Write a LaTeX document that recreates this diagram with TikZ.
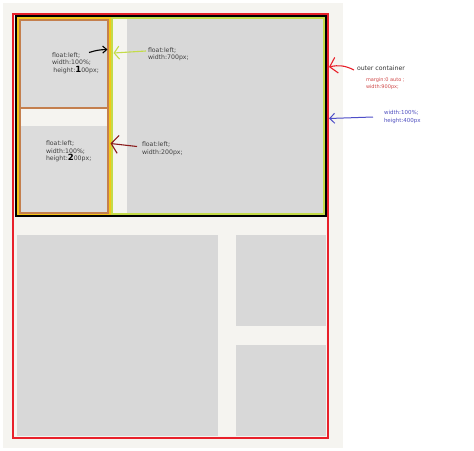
\documentclass[tikz,border=0pt]{standalone}
\usepackage{fontspec}
\setmainfont{DejaVu Sans}
\usetikzlibrary{arrows.meta}
\definecolor{bgc}{HTML}{F5F4F0}
\definecolor{grayc}{HTML}{D8D8D8}
\definecolor{grayl}{HTML}{DCDCDC}
\definecolor{yellowc}{HTML}{F5C518}
\definecolor{brownc}{HTML}{C47F4E}
\definecolor{greenc}{HTML}{C4DC48}
\definecolor{redc}{HTML}{E8202A}
\definecolor{darkredc}{HTML}{8A1C1C}
\definecolor{bluec}{HTML}{4E4EC8}
\definecolor{txtc}{HTML}{404040}
\definecolor{redtxt}{HTML}{D04848}
\definecolor{bluetxt}{HTML}{5050C0}
\tikzset{
  panel/.style={anchor=north west, inner sep=0pt, outer sep=0pt, draw=none},
  lbl/.style={anchor=north west, inner sep=0pt, outer sep=0pt, align=left, text=txtc,
     font=\fontsize{6.2}{7.5}\selectfont},
  redlbl/.style={lbl, text=redtxt, font=\fontsize{5}{7}\selectfont},
  bluelbl/.style={lbl, text=bluetxt, font=\fontsize{5.5}{8}\selectfont},
  arr/.style={line width=1.1pt},
}
\newcommand{\bignum}[1]{\smash{\textcolor{black}{\fontsize{8.5}{8.5}\selectfont\bfseries #1}}}
\begin{document}
\begin{tikzpicture}[x=1pt,y=-1pt]
\useasboundingbox (0,0) rectangle (474,450);
\fill[white] (0,0) rectangle (474,450);
% page background
\node[panel, fill=bgc, minimum width=340pt, minimum height=445pt] (page) at (3,3) {};
% lower grey blocks
\node[panel, fill=grayc, minimum width=201pt, minimum height=201pt] (mainbox) at (17,235) {};
\node[panel, fill=grayc, minimum width=90pt, minimum height=91pt] (sidetop) at (236,235) {};
\node[panel, fill=grayc, minimum width=90pt, minimum height=91pt] (sidebot) at (236,345) {};
% header: left column (yellow)
\node[panel, fill=yellowc, minimum width=94.5pt, minimum height=198.5pt] (leftcol) at (16.5,16.5) {};
\node[panel, fill=grayl, minimum width=88pt, minimum height=88pt] (box1) at (20,20) {};
\node[panel, fill=bgc, minimum width=88pt, minimum height=105pt] (box2) at (20,108) {};
\node[panel, fill=grayl, minimum width=87pt, minimum height=87pt] (box2in) at (20.5,126) {};
\draw[brownc, line width=2pt] (box1.north west) rectangle (box1.south east);
\draw[brownc, line width=2pt] (box2.north west) rectangle (box2.south east);
% header: right column (green)
\node[panel, fill=bgc, minimum width=212pt, minimum height=196pt] (rightcol) at (112,18) {};
\node[panel, fill=grayc, minimum width=196pt, minimum height=194pt] (rightin) at (127,19) {};
\draw[greenc, line width=2pt] (rightcol.north west) rectangle (rightcol.south east);
% outer red container and black header frame
\coordinate (cont-nw) at (13.3,14.3); \coordinate (cont-se) at (327.7,437.7);
\coordinate (head-nw) at (15.8,15.8); \coordinate (head-se) at (326,216);
\draw[draw=redc, line width=2pt] (cont-nw) rectangle (cont-se);
\draw[draw=black, line width=1.5pt] (head-nw) rectangle (head-se);
% labels
\node[lbl] (t1) at (52,52.5) {float:left;\\width:100\%;\\\hspace{1.5pt}height:\bignum{1}00px;};
\node[lbl] (t2) at (46,141) {float:left;\\width:100\%;\\height:\bignum{2}00px;};
\node[lbl] (t3) at (148,47.5) {float:left;\\width:700px;};
\node[lbl] (t4) at (142,142) {float:left;\\width:200px;};
\node[lbl, text=black!80] (t5) at (357,65.5) {outer container};
\node[redlbl] (t6) at (366,77.5) {margin:0 auto ;\\width:900px;};
\node[bluelbl] (t7) at (384,110) {width:100\%;\\height:400px};
% arrow end points
\coordinate (a1s) at (89,52.5);   \coordinate (a1e) at (107.5,49.5);
\coordinate (a2s) at (146,51);    \coordinate (a2e) at (113.5,53);
\coordinate (a3s) at (137,146.5); \coordinate (a3e) at (110.5,143.5);
\coordinate (a4s) at (354,70);    \coordinate (a4e) at (329,67);
\coordinate (a5s) at (373,117);   \coordinate (a5e) at (329,118.5);
\draw[arr, -{Straight Barb[length=4pt,width=7pt]}, black] (a1s) to[bend left=8] (a1e);
\draw[arr, -{Straight Barb[length=5pt,width=13pt]}, greenc] (a2s) -- (a2e);
\draw[arr, -{Straight Barb[length=7pt,width=18pt]}, darkredc] (a3s) -- (a3e);
\draw[arr, -{Straight Barb[length=7pt,width=16pt]}, redc] (a4s) to[bend right=20] (a4e);
\draw[arr, -{Straight Barb[length=5pt,width=10pt]}, bluec, line width=1pt] (a5s) -- (a5e);
\end{tikzpicture}
\end{document}
